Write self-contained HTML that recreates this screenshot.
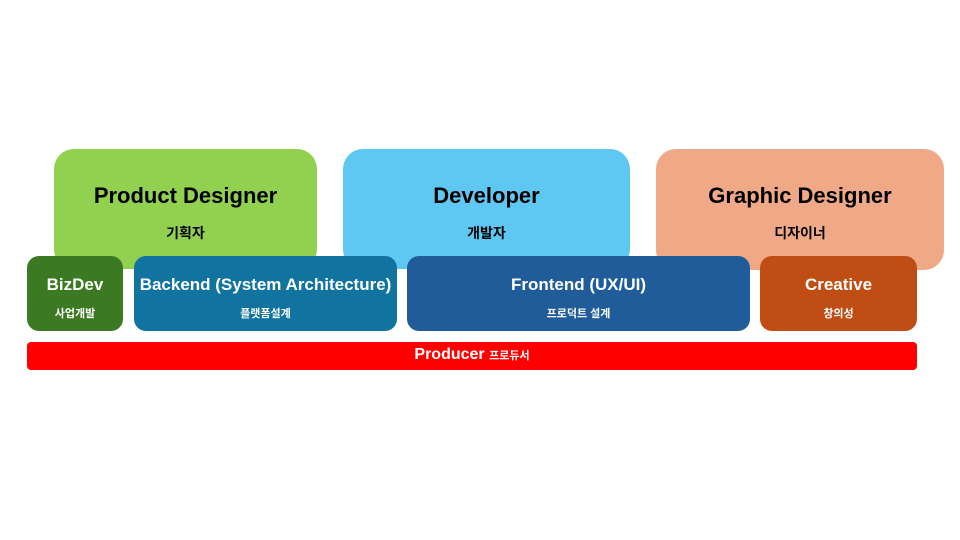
<!DOCTYPE html>
<html><head><meta charset="utf-8"><style>
body{margin:0;width:960px;height:540px;background:#fff;position:relative;overflow:hidden;font-family:"Liberation Sans","Noto Sans CJK KR",sans-serif;font-weight:bold}
.b{position:absolute;box-sizing:border-box;text-align:center}
.t{position:absolute;left:0;right:0;text-align:center;white-space:nowrap}
</style></head><body>
<div class="b" style="left:54px;top:149px;width:263px;height:120px;background:#92d050;border-radius:20px">
<div class="t" style="top:34px;font-size:22px;color:#000">Product Designer</div>
<div class="t" style="top:74px;font-size:14px;color:#000">기획자</div></div>
<div class="b" style="left:343px;top:149px;width:287px;height:120px;background:#5ec8f2;border-radius:20px">
<div class="t" style="top:34px;font-size:22px;color:#000">Developer</div>
<div class="t" style="top:74px;font-size:14px;color:#000">개발자</div></div>
<div class="b" style="left:656px;top:149px;width:288px;height:121px;background:#f0a986;border-radius:20px">
<div class="t" style="top:34px;font-size:22px;color:#000">Graphic Designer</div>
<div class="t" style="top:74px;font-size:14px;color:#000">디자이너</div></div>

<div class="b" style="left:27px;top:256px;width:96px;height:75px;background:#3b7a23;border-radius:12px;color:#fff">
<div class="t" style="top:19px;font-size:17px">BizDev</div>
<div class="t" style="top:49px;font-size:11px">사업개발</div></div>
<div class="b" style="left:134px;top:256px;width:263px;height:75px;background:#11739f;border-radius:12px;color:#fff">
<div class="t" style="top:19px;font-size:17px">Backend (System Architecture)</div>
<div class="t" style="top:49px;font-size:11px">플랫폼설계</div></div>
<div class="b" style="left:407px;top:256px;width:343px;height:75px;background:#1f5c99;border-radius:12px;color:#fff">
<div class="t" style="top:19px;font-size:17px">Frontend (UX/UI)</div>
<div class="t" style="top:49px;font-size:11px">프로덕트 설계</div></div>
<div class="b" style="left:760px;top:256px;width:157px;height:75px;background:#bf4d14;border-radius:12px;color:#fff">
<div class="t" style="top:19px;font-size:17px">Creative</div>
<div class="t" style="top:49px;font-size:11px">창의성</div></div>

<div class="b" style="left:27px;top:342px;width:890px;height:28px;background:#ff0000;border-radius:4px;color:#fff">
<div class="t" style="top:4px;font-size:16px">Producer <span style="font-size:11px">프로듀서</span></div></div>
</body></html>
